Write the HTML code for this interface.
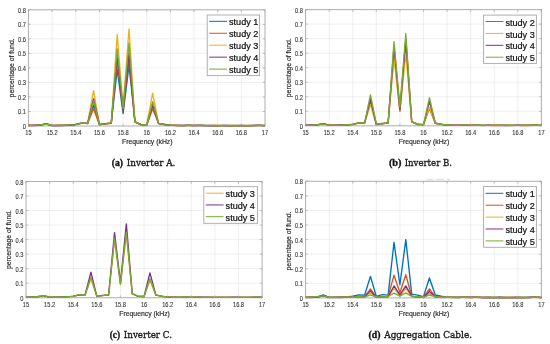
<!DOCTYPE html>
<html><head><meta charset="utf-8"><title>Figure</title>
<style>
html,body{margin:0;padding:0;background:#fff;}
body{width:550px;height:344px;overflow:hidden;}
svg{display:block;filter:blur(0.5px);}
.grid{stroke:#e4e4e4;stroke-width:0.6;fill:none;}
.tick{stroke:#9a9a9a;stroke-width:0.6;fill:none;}
.box{stroke:#b4b4b4;stroke-width:1.1;fill:none;}
.ln{fill:none;stroke-width:1.35;stroke-linejoin:round;}
.tl{font-family:"Liberation Sans",Arial,sans-serif;font-size:6.7px;fill:#383838;stroke:#383838;stroke-width:0.12px;}
.al{font-family:"Liberation Sans",Arial,sans-serif;font-size:6.85px;fill:#2e2e2e;stroke:#2e2e2e;stroke-width:0.18px;}
.leg{fill:#fff;stroke:#a8a8a8;stroke-width:0.9;}
.ll{stroke-width:1.0;fill:none;}
.lt{font-family:"Liberation Sans",Arial,sans-serif;font-size:9.1px;fill:#111;stroke:#111;stroke-width:0.22px;}
.cap{font-family:"DejaVu Serif","Liberation Serif",serif;font-size:8.9px;fill:#1a1a1a;stroke:#1a1a1a;stroke-width:0.32px;}
.capb{font-family:"Liberation Serif","DejaVu Serif",serif;font-weight:bold;font-size:9.3px;fill:#111;stroke:#111;stroke-width:0.3px;}
</style></head>
<body>
<svg width="550" height="344" viewBox="0 0 550 344">
<rect width="550" height="344" fill="#fff"/>
<path class="grid" d="M52.15 9.8V126M75.8 9.8V126M99.45 9.8V126M123.1 9.8V126M146.75 9.8V126M170.4 9.8V126M194.05 9.8V126M217.7 9.8V126M241.35 9.8V126M28.5 111.47H265M28.5 96.95H265M28.5 82.42H265M28.5 67.9H265M28.5 53.38H265M28.5 38.85H265M28.5 24.33H265"/>
<rect class="box" x="28.5" y="9.8" width="236.5" height="116.2"/>
<polyline class="ln" stroke="#0072BD" points="28.5,125.33 34.41,125.59 40.32,124.98 46.24,123.79 52.15,125.51 58.06,125.33 63.98,125.59 69.89,125.13 75.8,124.37 81.71,123.18 87.62,123.3 93.54,104.94 99.45,124.55 105.36,123.65 111.27,123.18 117.19,69.35 123.1,113.51 129.01,65.14 134.93,121.76 140.84,124.63 146.75,124.75 152.66,105.66 158.58,123.39 164.49,124.37 170.4,125.36 176.31,125.33 182.23,125.74 188.14,125.27 194.05,125.39 199.96,125.36 205.88,125.48 211.79,125.74 217.7,125.56 223.61,125.39 229.52,125.65 235.44,125.48 241.35,125.74 247.26,125.56 253.17,125.39 259.09,125.36 265,125.48"/>
<polyline class="ln" stroke="#D95319" points="28.5,125.51 34.41,125.33 40.32,125.16 46.24,123.97 52.15,125.24 58.06,125.51 63.98,125.33 69.89,125.3 75.8,124.55 81.71,122.92 87.62,123.47 93.54,108.86 99.45,124.72 105.36,123.82 111.27,122.92 117.19,60.93 123.1,110.89 129.01,58.17 134.93,121.93 140.84,124.37 146.75,124.93 152.66,108.86 158.58,123.56 164.49,124.55 170.4,125.1 176.31,125.51 182.23,125.48 188.14,125.45 194.05,125.56 199.96,125.1 205.88,125.65 211.79,125.48 217.7,125.74 223.61,125.56 229.52,125.39 235.44,125.65 241.35,125.48 247.26,125.74 253.17,125.56 259.09,125.1 265,125.65"/>
<polyline class="ln" stroke="#EDB120" points="28.5,125.24 34.41,125.51 40.32,124.9 46.24,124.14 52.15,125.42 58.06,125.24 63.98,125.51 69.89,125.04 75.8,124.72 81.71,123.09 87.62,123.21 93.54,90.7 99.45,124.46 105.36,124 111.27,123.09 117.19,34.64 123.1,107.12 129.01,28.97 134.93,122.11 140.84,124.55 146.75,124.66 152.66,93.17 158.58,123.3 164.49,124.72 170.4,125.27 176.31,125.24 182.23,125.65 188.14,125.19 194.05,125.74 199.96,125.27 205.88,125.39 211.79,125.65 217.7,125.48 223.61,125.74 229.52,125.56 235.44,125.39 241.35,125.65 247.26,125.48 253.17,125.74 259.09,125.27 265,125.39"/>
<polyline class="ln" stroke="#7E2F8E" points="28.5,125.42 34.41,125.24 40.32,125.07 46.24,123.88 52.15,125.59 58.06,125.42 63.98,125.24 69.89,125.22 75.8,124.46 81.71,123.27 87.62,123.39 93.54,98.98 99.45,124.63 105.36,123.73 111.27,123.27 117.19,54.83 123.1,110.02 129.01,53.38 134.93,121.85 140.84,124.72 146.75,124.84 152.66,104.21 158.58,123.47 164.49,124.46 170.4,125.45 176.31,125.42 182.23,125.39 188.14,125.36 194.05,125.48 199.96,125.45 205.88,125.56 211.79,125.39 217.7,125.65 223.61,125.48 229.52,125.74 235.44,125.56 241.35,125.39 247.26,125.65 253.17,125.48 259.09,125.45 265,125.56"/>
<polyline class="ln" stroke="#77AC30" points="28.5,125.59 34.41,125.42 40.32,124.81 46.24,124.05 52.15,125.33 58.06,125.59 63.98,125.42 69.89,124.95 75.8,124.63 81.71,123.01 87.62,123.56 93.54,101.02 99.45,124.37 105.36,123.91 111.27,123.01 117.19,48.87 123.1,108.42 129.01,43.21 134.93,122.02 140.84,124.46 146.75,125.01 152.66,101.74 158.58,123.21 164.49,124.63 170.4,125.19 176.31,125.59 182.23,125.56 188.14,125.1 194.05,125.65 199.96,125.19 205.88,125.74 211.79,125.56 217.7,125.39 223.61,125.65 229.52,125.48 235.44,125.74 241.35,125.56 247.26,125.39 253.17,125.65 259.09,125.19 265,125.74"/>
<path class="tick" d="M28.5 126v-2.2M28.5 9.8v2.2M52.15 126v-2.2M52.15 9.8v2.2M75.8 126v-2.2M75.8 9.8v2.2M99.45 126v-2.2M99.45 9.8v2.2M123.1 126v-2.2M123.1 9.8v2.2M146.75 126v-2.2M146.75 9.8v2.2M170.4 126v-2.2M170.4 9.8v2.2M194.05 126v-2.2M194.05 9.8v2.2M217.7 126v-2.2M217.7 9.8v2.2M241.35 126v-2.2M241.35 9.8v2.2M265 126v-2.2M265 9.8v2.2M28.5 126h2.2M265 126h-2.2M28.5 111.47h2.2M265 111.47h-2.2M28.5 96.95h2.2M265 96.95h-2.2M28.5 82.42h2.2M265 82.42h-2.2M28.5 67.9h2.2M265 67.9h-2.2M28.5 53.38h2.2M265 53.38h-2.2M28.5 38.85h2.2M265 38.85h-2.2M28.5 24.33h2.2M265 24.33h-2.2M28.5 9.8h2.2M265 9.8h-2.2"/>
<text class="tl" transform="translate(28.5 134.8) scale(0.85 1)" text-anchor="middle">15</text>
<text class="tl" transform="translate(52.15 134.8) scale(0.85 1)" text-anchor="middle">15.2</text>
<text class="tl" transform="translate(75.8 134.8) scale(0.85 1)" text-anchor="middle">15.4</text>
<text class="tl" transform="translate(99.45 134.8) scale(0.85 1)" text-anchor="middle">15.6</text>
<text class="tl" transform="translate(123.1 134.8) scale(0.85 1)" text-anchor="middle">15.8</text>
<text class="tl" transform="translate(146.75 134.8) scale(0.85 1)" text-anchor="middle">16</text>
<text class="tl" transform="translate(170.4 134.8) scale(0.85 1)" text-anchor="middle">16.2</text>
<text class="tl" transform="translate(194.05 134.8) scale(0.85 1)" text-anchor="middle">16.4</text>
<text class="tl" transform="translate(217.7 134.8) scale(0.85 1)" text-anchor="middle">16.6</text>
<text class="tl" transform="translate(241.35 134.8) scale(0.85 1)" text-anchor="middle">16.8</text>
<text class="tl" transform="translate(265 134.8) scale(0.85 1)" text-anchor="middle">17</text>
<text class="tl" transform="translate(25.9 129) scale(0.85 1)" text-anchor="end">0</text>
<text class="tl" transform="translate(25.9 114.47) scale(0.85 1)" text-anchor="end">0.1</text>
<text class="tl" transform="translate(25.9 99.95) scale(0.85 1)" text-anchor="end">0.2</text>
<text class="tl" transform="translate(25.9 85.42) scale(0.85 1)" text-anchor="end">0.3</text>
<text class="tl" transform="translate(25.9 70.9) scale(0.85 1)" text-anchor="end">0.4</text>
<text class="tl" transform="translate(25.9 56.38) scale(0.85 1)" text-anchor="end">0.5</text>
<text class="tl" transform="translate(25.9 41.85) scale(0.85 1)" text-anchor="end">0.6</text>
<text class="tl" transform="translate(25.9 27.33) scale(0.85 1)" text-anchor="end">0.7</text>
<text class="tl" transform="translate(25.9 12.8) scale(0.85 1)" text-anchor="end">0.8</text>
<text class="al" x="147.25" y="143.8" text-anchor="middle">Frequency (kHz)</text>
<text class="al" transform="translate(14.2 67.9) rotate(-90)" text-anchor="middle">percentage of fund.</text>
<rect class="leg" x="207.2" y="15" width="52.3" height="60.6"/>
<path class="ll" stroke="#0072BD" stroke-width="0.9" d="M209.2 21.3H227"/>
<text class="lt" x="229" y="25.4">study 1</text>
<path class="ll" stroke="#D95319" stroke-width="0.9" d="M209.2 33.25H227"/>
<text class="lt" x="229" y="37.35">study 2</text>
<path class="ll" stroke="#EDB120" stroke-width="0.9" d="M209.2 45.2H227"/>
<text class="lt" x="229" y="49.3">study 3</text>
<path class="ll" stroke="#7E2F8E" stroke-width="0.9" d="M209.2 57.15H227"/>
<text class="lt" x="229" y="61.25">study 4</text>
<path class="ll" stroke="#77AC30" stroke-width="0.9" d="M209.2 69.1H227"/>
<text class="lt" x="229" y="73.2">study 5</text>
<text class="capb" x="111.8" y="165.6" textLength="11.3" lengthAdjust="spacingAndGlyphs">(a)</text>
<text class="cap" x="126.7" y="165.6" textLength="48.7" lengthAdjust="spacingAndGlyphs">Inverter A.</text>
<path class="grid" d="M329.18 9.6V125.8M352.76 9.6V125.8M376.34 9.6V125.8M399.92 9.6V125.8M423.5 9.6V125.8M447.08 9.6V125.8M470.66 9.6V125.8M494.24 9.6V125.8M517.82 9.6V125.8M305.6 111.27H541.4M305.6 96.75H541.4M305.6 82.22H541.4M305.6 67.7H541.4M305.6 53.17H541.4M305.6 38.65H541.4M305.6 24.12H541.4"/>
<rect class="box" x="305.6" y="9.6" width="235.8" height="116.2"/>
<polyline class="ln" stroke="#D95319" points="305.6,125.31 311.5,125.13 317.39,124.96 323.29,123.77 329.18,125.04 335.08,125.31 340.97,125.13 346.86,125.1 352.76,124.35 358.65,122.72 364.55,123.27 370.45,102.56 376.34,124.52 382.24,123.62 388.13,122.72 394.02,53.17 399.92,111.27 405.81,44.46 411.71,121.73 417.6,124.17 423.5,124.73 429.4,108.37 435.29,123.36 441.18,124.35 447.08,124.9 452.98,125.31 458.87,125.28 464.77,125.25 470.66,125.36 476.55,124.9 482.45,125.45 488.35,125.28 494.24,125.54 500.13,125.36 506.03,125.19 511.92,125.45 517.82,125.28 523.72,125.54 529.61,125.36 535.5,124.9 541.4,125.45"/>
<polyline class="ln" stroke="#EDB120" points="305.6,125.04 311.5,125.31 317.39,124.7 323.29,123.94 329.18,125.22 335.08,125.04 340.97,125.31 346.86,124.84 352.76,124.52 358.65,122.89 364.55,123.01 370.45,104.45 376.34,124.26 382.24,123.8 388.13,122.89 394.02,57.53 399.92,111.57 405.81,53.17 411.71,121.91 417.6,124.35 423.5,124.46 429.4,107.35 435.29,123.1 441.18,124.52 447.08,125.07 452.98,125.04 458.87,125.45 464.77,124.99 470.66,125.54 476.55,125.07 482.45,125.19 488.35,125.45 494.24,125.28 500.13,125.54 506.03,125.36 511.92,125.19 517.82,125.45 523.72,125.28 529.61,125.54 535.5,125.07 541.4,125.19"/>
<polyline class="ln" stroke="#7E2F8E" points="305.6,125.22 311.5,125.04 317.39,124.87 323.29,123.68 329.18,125.39 335.08,125.22 340.97,125.04 346.86,125.02 352.76,124.26 358.65,123.07 364.55,123.19 370.45,99.22 376.34,124.43 382.24,123.53 388.13,123.07 394.02,45.91 399.92,109.82 405.81,38.65 411.71,121.65 417.6,124.52 423.5,124.64 429.4,101.4 435.29,123.27 441.18,124.26 447.08,125.25 452.98,125.22 458.87,125.19 464.77,125.16 470.66,125.28 476.55,125.25 482.45,125.36 488.35,125.19 494.24,125.45 500.13,125.28 506.03,125.54 511.92,125.36 517.82,125.19 523.72,125.45 529.61,125.28 535.5,125.25 541.4,125.36"/>
<polyline class="ln" stroke="#77AC30" points="305.6,125.39 311.5,125.22 317.39,124.61 323.29,123.85 329.18,125.13 335.08,125.39 340.97,125.22 346.86,124.75 352.76,124.43 358.65,122.81 364.55,123.36 370.45,94.86 376.34,124.17 382.24,123.71 388.13,122.81 394.02,41.7 399.92,107.35 405.81,33.71 411.71,121.82 417.6,124.26 423.5,124.81 429.4,97.77 435.29,123.01 441.18,124.43 447.08,124.99 452.98,125.39 458.87,125.36 464.77,124.9 470.66,125.45 476.55,124.99 482.45,125.54 488.35,125.36 494.24,125.19 500.13,125.45 506.03,125.28 511.92,125.54 517.82,125.36 523.72,125.19 529.61,125.45 535.5,124.99 541.4,125.54"/>
<path class="tick" d="M305.6 125.8v-2.2M305.6 9.6v2.2M329.18 125.8v-2.2M329.18 9.6v2.2M352.76 125.8v-2.2M352.76 9.6v2.2M376.34 125.8v-2.2M376.34 9.6v2.2M399.92 125.8v-2.2M399.92 9.6v2.2M423.5 125.8v-2.2M423.5 9.6v2.2M447.08 125.8v-2.2M447.08 9.6v2.2M470.66 125.8v-2.2M470.66 9.6v2.2M494.24 125.8v-2.2M494.24 9.6v2.2M517.82 125.8v-2.2M517.82 9.6v2.2M541.4 125.8v-2.2M541.4 9.6v2.2M305.6 125.8h2.2M541.4 125.8h-2.2M305.6 111.27h2.2M541.4 111.27h-2.2M305.6 96.75h2.2M541.4 96.75h-2.2M305.6 82.22h2.2M541.4 82.22h-2.2M305.6 67.7h2.2M541.4 67.7h-2.2M305.6 53.17h2.2M541.4 53.17h-2.2M305.6 38.65h2.2M541.4 38.65h-2.2M305.6 24.12h2.2M541.4 24.12h-2.2M305.6 9.6h2.2M541.4 9.6h-2.2"/>
<text class="tl" transform="translate(305.6 134.6) scale(0.85 1)" text-anchor="middle">15</text>
<text class="tl" transform="translate(329.18 134.6) scale(0.85 1)" text-anchor="middle">15.2</text>
<text class="tl" transform="translate(352.76 134.6) scale(0.85 1)" text-anchor="middle">15.4</text>
<text class="tl" transform="translate(376.34 134.6) scale(0.85 1)" text-anchor="middle">15.6</text>
<text class="tl" transform="translate(399.92 134.6) scale(0.85 1)" text-anchor="middle">15.8</text>
<text class="tl" transform="translate(423.5 134.6) scale(0.85 1)" text-anchor="middle">16</text>
<text class="tl" transform="translate(447.08 134.6) scale(0.85 1)" text-anchor="middle">16.2</text>
<text class="tl" transform="translate(470.66 134.6) scale(0.85 1)" text-anchor="middle">16.4</text>
<text class="tl" transform="translate(494.24 134.6) scale(0.85 1)" text-anchor="middle">16.6</text>
<text class="tl" transform="translate(517.82 134.6) scale(0.85 1)" text-anchor="middle">16.8</text>
<text class="tl" transform="translate(541.4 134.6) scale(0.85 1)" text-anchor="middle">17</text>
<text class="tl" transform="translate(303 128.8) scale(0.85 1)" text-anchor="end">0</text>
<text class="tl" transform="translate(303 114.27) scale(0.85 1)" text-anchor="end">0.1</text>
<text class="tl" transform="translate(303 99.75) scale(0.85 1)" text-anchor="end">0.2</text>
<text class="tl" transform="translate(303 85.22) scale(0.85 1)" text-anchor="end">0.3</text>
<text class="tl" transform="translate(303 70.7) scale(0.85 1)" text-anchor="end">0.4</text>
<text class="tl" transform="translate(303 56.17) scale(0.85 1)" text-anchor="end">0.5</text>
<text class="tl" transform="translate(303 41.65) scale(0.85 1)" text-anchor="end">0.6</text>
<text class="tl" transform="translate(303 27.12) scale(0.85 1)" text-anchor="end">0.7</text>
<text class="tl" transform="translate(303 12.6) scale(0.85 1)" text-anchor="end">0.8</text>
<text class="al" x="424" y="143.6" text-anchor="middle">Frequency (kHz)</text>
<text class="al" transform="translate(291.3 67.7) rotate(-90)" text-anchor="middle">percentage of fund.</text>
<rect class="leg" x="483.6" y="15.1" width="52.8" height="48.3"/>
<path class="ll" stroke="#D95319" stroke-width="0.9" d="M485.6 21.5H503.4"/>
<text class="lt" x="505.4" y="25.6">study 2</text>
<path class="ll" stroke="#EDB120" stroke-width="0.9" d="M485.6 33.4H503.4"/>
<text class="lt" x="505.4" y="37.5">study 3</text>
<path class="ll" stroke="#7E2F8E" stroke-width="0.9" d="M485.6 45.3H503.4"/>
<text class="lt" x="505.4" y="49.4">study 4</text>
<path class="ll" stroke="#77AC30" stroke-width="0.9" d="M485.6 57.2H503.4"/>
<text class="lt" x="505.4" y="61.3">study 5</text>
<text class="capb" x="388.9" y="165.6" textLength="12.6" lengthAdjust="spacingAndGlyphs">(b)</text>
<text class="cap" x="404.7" y="165.6" textLength="47.3" lengthAdjust="spacingAndGlyphs">Inverter B.</text>
<path class="grid" d="M49.61 181.5V297.7M73.22 181.5V297.7M96.83 181.5V297.7M120.44 181.5V297.7M144.05 181.5V297.7M167.66 181.5V297.7M191.27 181.5V297.7M214.88 181.5V297.7M238.49 181.5V297.7M26 283.18H262.1M26 268.65H262.1M26 254.12H262.1M26 239.6H262.1M26 225.07H262.1M26 210.55H262.1M26 196.03H262.1"/>
<rect class="box" x="26" y="181.5" width="236.1" height="116.2"/>
<polyline class="ln" stroke="#EDB120" points="26,296.94 31.9,297.21 37.8,296.6 43.71,295.84 49.61,297.12 55.51,296.94 61.42,297.21 67.32,296.74 73.22,296.42 79.12,294.8 85.03,294.91 90.93,278.82 96.83,296.16 102.73,295.7 108.63,294.8 114.54,239.6 120.44,284.63 126.34,233.79 132.25,293.81 138.15,296.25 144.05,296.36 149.95,280.27 155.86,295 161.76,296.42 167.66,296.97 173.56,296.94 179.47,297.35 185.37,296.89 191.27,297.44 197.17,296.97 203.08,297.09 208.98,297.35 214.88,297.18 220.78,297.44 226.68,297.26 232.59,297.09 238.49,297.35 244.39,297.18 250.29,297.44 256.2,296.97 262.1,297.09"/>
<polyline class="ln" stroke="#7E2F8E" points="26,297.12 31.9,296.94 37.8,296.77 43.71,295.58 49.61,297.29 55.51,297.12 61.42,296.94 67.32,296.92 73.22,296.16 79.12,294.97 85.03,295.09 90.93,272.14 96.83,296.33 102.73,295.43 108.63,294.97 114.54,232.63 120.44,283.18 126.34,223.91 132.25,293.55 138.15,296.42 144.05,296.54 149.95,272.86 155.86,295.17 161.76,296.16 167.66,297.15 173.56,297.12 179.47,297.09 185.37,297.06 191.27,297.18 197.17,297.15 203.08,297.26 208.98,297.09 214.88,297.35 220.78,297.18 226.68,297.44 232.59,297.26 238.49,297.09 244.39,297.35 250.29,297.18 256.2,297.15 262.1,297.26"/>
<polyline class="ln" stroke="#77AC30" points="26,297.29 31.9,297.12 37.8,296.51 43.71,295.75 49.61,297.03 55.51,297.29 61.42,297.12 67.32,296.65 73.22,296.33 79.12,294.71 85.03,295.26 90.93,277.22 96.83,296.07 102.73,295.61 108.63,294.71 114.54,238.15 120.44,283.76 126.34,232.05 132.25,293.72 138.15,296.16 144.05,296.71 149.95,278.67 155.86,294.91 161.76,296.33 167.66,296.89 173.56,297.29 179.47,297.26 185.37,296.8 191.27,297.35 197.17,296.89 203.08,297.44 208.98,297.26 214.88,297.09 220.78,297.35 226.68,297.18 232.59,297.44 238.49,297.26 244.39,297.09 250.29,297.35 256.2,296.89 262.1,297.44"/>
<path class="tick" d="M26 297.7v-2.2M26 181.5v2.2M49.61 297.7v-2.2M49.61 181.5v2.2M73.22 297.7v-2.2M73.22 181.5v2.2M96.83 297.7v-2.2M96.83 181.5v2.2M120.44 297.7v-2.2M120.44 181.5v2.2M144.05 297.7v-2.2M144.05 181.5v2.2M167.66 297.7v-2.2M167.66 181.5v2.2M191.27 297.7v-2.2M191.27 181.5v2.2M214.88 297.7v-2.2M214.88 181.5v2.2M238.49 297.7v-2.2M238.49 181.5v2.2M262.1 297.7v-2.2M262.1 181.5v2.2M26 297.7h2.2M262.1 297.7h-2.2M26 283.18h2.2M262.1 283.18h-2.2M26 268.65h2.2M262.1 268.65h-2.2M26 254.12h2.2M262.1 254.12h-2.2M26 239.6h2.2M262.1 239.6h-2.2M26 225.07h2.2M262.1 225.07h-2.2M26 210.55h2.2M262.1 210.55h-2.2M26 196.03h2.2M262.1 196.03h-2.2M26 181.5h2.2M262.1 181.5h-2.2"/>
<text class="tl" transform="translate(26 306.5) scale(0.85 1)" text-anchor="middle">15</text>
<text class="tl" transform="translate(49.61 306.5) scale(0.85 1)" text-anchor="middle">15.2</text>
<text class="tl" transform="translate(73.22 306.5) scale(0.85 1)" text-anchor="middle">15.4</text>
<text class="tl" transform="translate(96.83 306.5) scale(0.85 1)" text-anchor="middle">15.6</text>
<text class="tl" transform="translate(120.44 306.5) scale(0.85 1)" text-anchor="middle">15.8</text>
<text class="tl" transform="translate(144.05 306.5) scale(0.85 1)" text-anchor="middle">16</text>
<text class="tl" transform="translate(167.66 306.5) scale(0.85 1)" text-anchor="middle">16.2</text>
<text class="tl" transform="translate(191.27 306.5) scale(0.85 1)" text-anchor="middle">16.4</text>
<text class="tl" transform="translate(214.88 306.5) scale(0.85 1)" text-anchor="middle">16.6</text>
<text class="tl" transform="translate(238.49 306.5) scale(0.85 1)" text-anchor="middle">16.8</text>
<text class="tl" transform="translate(262.1 306.5) scale(0.85 1)" text-anchor="middle">17</text>
<text class="tl" transform="translate(23.4 300.7) scale(0.85 1)" text-anchor="end">0</text>
<text class="tl" transform="translate(23.4 286.18) scale(0.85 1)" text-anchor="end">0.1</text>
<text class="tl" transform="translate(23.4 271.65) scale(0.85 1)" text-anchor="end">0.2</text>
<text class="tl" transform="translate(23.4 257.12) scale(0.85 1)" text-anchor="end">0.3</text>
<text class="tl" transform="translate(23.4 242.6) scale(0.85 1)" text-anchor="end">0.4</text>
<text class="tl" transform="translate(23.4 228.07) scale(0.85 1)" text-anchor="end">0.5</text>
<text class="tl" transform="translate(23.4 213.55) scale(0.85 1)" text-anchor="end">0.6</text>
<text class="tl" transform="translate(23.4 199.03) scale(0.85 1)" text-anchor="end">0.7</text>
<text class="tl" transform="translate(23.4 184.5) scale(0.85 1)" text-anchor="end">0.8</text>
<text class="al" x="144.55" y="315.5" text-anchor="middle">Frequency (kHz)</text>
<text class="al" transform="translate(10.7 239.6) rotate(-90)" text-anchor="middle">percentage of fund.</text>
<rect class="leg" x="203.8" y="186.7" width="53.8" height="36.6"/>
<path class="ll" stroke="#EDB120" stroke-width="1.4" d="M205.8 193.2H223.6"/>
<text class="lt" x="225.6" y="197.3">study 3</text>
<path class="ll" stroke="#7E2F8E" stroke-width="1.4" d="M205.8 204.95H223.6"/>
<text class="lt" x="225.6" y="209.05">study 4</text>
<path class="ll" stroke="#77AC30" stroke-width="1.4" d="M205.8 216.7H223.6"/>
<text class="lt" x="225.6" y="220.8">study 5</text>
<text class="capb" x="109.7" y="337.6" textLength="10.4" lengthAdjust="spacingAndGlyphs">(c)</text>
<text class="cap" x="123.8" y="337.6" textLength="48.2" lengthAdjust="spacingAndGlyphs">Inverter C.</text>
<path class="grid" d="M329.18 181.3V297.9M352.76 181.3V297.9M376.34 181.3V297.9M399.92 181.3V297.9M423.5 181.3V297.9M447.08 181.3V297.9M470.66 181.3V297.9M494.24 181.3V297.9M517.82 181.3V297.9M305.6 283.32H541.4M305.6 268.75H541.4M305.6 254.17H541.4M305.6 239.6H541.4M305.6 225.03H541.4M305.6 210.45H541.4M305.6 195.88H541.4"/>
<rect class="box" x="305.6" y="181.3" width="235.8" height="116.6"/>
<polyline class="ln" stroke="#0072BD" points="305.6,297.23 311.5,297.49 317.39,296.88 323.29,294.96 329.18,297.4 335.08,297.23 340.97,297.49 346.86,297.03 352.76,296.27 358.65,294.93 364.55,295.19 370.45,276.33 376.34,296.44 382.24,294.66 388.13,295.07 394.02,242.37 399.92,284.78 405.81,239.6 411.71,294.08 417.6,295.07 423.5,296.65 429.4,277.93 435.29,294.98 441.18,296.27 447.08,297.26 452.98,297.23 458.87,297.64 464.77,297.17 470.66,297.29 476.55,297.26 482.45,297.38 488.35,297.64 494.24,297.46 500.13,297.29 506.03,297.55 511.92,297.38 517.82,297.64 523.72,297.46 529.61,297.29 535.5,297.26 541.4,297.38"/>
<polyline class="ln" stroke="#D95319" points="305.6,297.4 311.5,297.23 317.39,297.05 323.29,295.86 329.18,297.14 335.08,297.4 340.97,297.23 346.86,297.2 352.76,297.03 358.65,296.41 364.55,296.97 370.45,288.86 376.34,297.35 382.24,296.88 388.13,296.41 394.02,275.16 399.92,292.51 405.81,274.73 411.71,296.3 417.6,296.7 423.5,297.4 429.4,288.86 435.29,296.91 441.18,297.17 447.08,297 452.98,297.4 458.87,297.38 464.77,297.35 470.66,297.46 476.55,297 482.45,297.55 488.35,297.38 494.24,297.64 500.13,297.46 506.03,297.29 511.92,297.55 517.82,297.38 523.72,297.64 529.61,297.46 535.5,297 541.4,297.55"/>
<polyline class="ln" stroke="#EDB120" points="305.6,297.14 311.5,297.4 317.39,296.79 323.29,296.03 329.18,297.32 335.08,297.14 340.97,297.4 346.86,296.94 352.76,297.2 358.65,296.59 364.55,296.7 370.45,292.8 376.34,297.08 382.24,297.05 388.13,296.59 394.02,288.43 399.92,295.71 405.81,288.43 411.71,296.47 417.6,296.88 423.5,297.14 429.4,293.53 435.29,296.65 441.18,297.35 447.08,297.17 452.98,297.14 458.87,297.55 464.77,297.08 470.66,297.64 476.55,297.17 482.45,297.29 488.35,297.55 494.24,297.38 500.13,297.64 506.03,297.46 511.92,297.29 517.82,297.55 523.72,297.38 529.61,297.64 535.5,297.17 541.4,297.29"/>
<polyline class="ln" stroke="#7E2F8E" points="305.6,297.32 311.5,297.14 317.39,296.97 323.29,295.77 329.18,297.49 335.08,297.32 340.97,297.14 346.86,297.11 352.76,296.94 358.65,296.76 364.55,296.88 370.45,290.9 376.34,297.26 382.24,296.79 388.13,296.76 394.02,285.95 399.92,294.98 405.81,285.95 411.71,296.21 417.6,297.05 423.5,297.32 429.4,291.49 435.29,296.82 441.18,297.08 447.08,297.35 452.98,297.32 458.87,297.29 464.77,297.26 470.66,297.38 476.55,297.35 482.45,297.46 488.35,297.29 494.24,297.55 500.13,297.38 506.03,297.64 511.92,297.46 517.82,297.29 523.72,297.55 529.61,297.38 535.5,297.35 541.4,297.46"/>
<polyline class="ln" stroke="#77AC30" points="305.6,297.49 311.5,297.32 317.39,296.7 323.29,295.95 329.18,297.23 335.08,297.49 340.97,297.32 346.86,296.85 352.76,297.11 358.65,296.5 364.55,297.05 370.45,294.98 376.34,297 382.24,296.97 388.13,296.5 394.02,293.09 399.92,296.15 405.81,292.8 411.71,296.38 417.6,296.79 423.5,297.49 429.4,294.98 435.29,296.56 441.18,297.26 447.08,297.08 452.98,297.49 458.87,297.46 464.77,297 470.66,297.55 476.55,297.08 482.45,297.64 488.35,297.46 494.24,297.29 500.13,297.55 506.03,297.38 511.92,297.64 517.82,297.46 523.72,297.29 529.61,297.55 535.5,297.08 541.4,297.64"/>
<path class="tick" d="M305.6 297.9v-2.2M305.6 181.3v2.2M329.18 297.9v-2.2M329.18 181.3v2.2M352.76 297.9v-2.2M352.76 181.3v2.2M376.34 297.9v-2.2M376.34 181.3v2.2M399.92 297.9v-2.2M399.92 181.3v2.2M423.5 297.9v-2.2M423.5 181.3v2.2M447.08 297.9v-2.2M447.08 181.3v2.2M470.66 297.9v-2.2M470.66 181.3v2.2M494.24 297.9v-2.2M494.24 181.3v2.2M517.82 297.9v-2.2M517.82 181.3v2.2M541.4 297.9v-2.2M541.4 181.3v2.2M305.6 297.9h2.2M541.4 297.9h-2.2M305.6 283.32h2.2M541.4 283.32h-2.2M305.6 268.75h2.2M541.4 268.75h-2.2M305.6 254.17h2.2M541.4 254.17h-2.2M305.6 239.6h2.2M541.4 239.6h-2.2M305.6 225.03h2.2M541.4 225.03h-2.2M305.6 210.45h2.2M541.4 210.45h-2.2M305.6 195.88h2.2M541.4 195.88h-2.2M305.6 181.3h2.2M541.4 181.3h-2.2"/>
<text class="tl" transform="translate(305.6 306.7) scale(0.85 1)" text-anchor="middle">15</text>
<text class="tl" transform="translate(329.18 306.7) scale(0.85 1)" text-anchor="middle">15.2</text>
<text class="tl" transform="translate(352.76 306.7) scale(0.85 1)" text-anchor="middle">15.4</text>
<text class="tl" transform="translate(376.34 306.7) scale(0.85 1)" text-anchor="middle">15.6</text>
<text class="tl" transform="translate(399.92 306.7) scale(0.85 1)" text-anchor="middle">15.8</text>
<text class="tl" transform="translate(423.5 306.7) scale(0.85 1)" text-anchor="middle">16</text>
<text class="tl" transform="translate(447.08 306.7) scale(0.85 1)" text-anchor="middle">16.2</text>
<text class="tl" transform="translate(470.66 306.7) scale(0.85 1)" text-anchor="middle">16.4</text>
<text class="tl" transform="translate(494.24 306.7) scale(0.85 1)" text-anchor="middle">16.6</text>
<text class="tl" transform="translate(517.82 306.7) scale(0.85 1)" text-anchor="middle">16.8</text>
<text class="tl" transform="translate(541.4 306.7) scale(0.85 1)" text-anchor="middle">17</text>
<text class="tl" transform="translate(303 300.9) scale(0.85 1)" text-anchor="end">0</text>
<text class="tl" transform="translate(303 286.32) scale(0.85 1)" text-anchor="end">0.1</text>
<text class="tl" transform="translate(303 271.75) scale(0.85 1)" text-anchor="end">0.2</text>
<text class="tl" transform="translate(303 257.17) scale(0.85 1)" text-anchor="end">0.3</text>
<text class="tl" transform="translate(303 242.6) scale(0.85 1)" text-anchor="end">0.4</text>
<text class="tl" transform="translate(303 228.03) scale(0.85 1)" text-anchor="end">0.5</text>
<text class="tl" transform="translate(303 213.45) scale(0.85 1)" text-anchor="end">0.6</text>
<text class="tl" transform="translate(303 198.88) scale(0.85 1)" text-anchor="end">0.7</text>
<text class="tl" transform="translate(303 184.3) scale(0.85 1)" text-anchor="end">0.8</text>
<text class="al" x="424" y="315.7" text-anchor="middle">Frequency (kHz)</text>
<text class="al" transform="translate(291.3 241) rotate(-90)" text-anchor="middle">percentage of fund.</text>
<rect class="leg" x="483.6" y="186.6" width="52.8" height="60.7"/>
<path class="ll" stroke="#0072BD" stroke-width="1.4" d="M485.6 193.3H503.4"/>
<text class="lt" x="505.4" y="197.4">study 1</text>
<path class="ll" stroke="#D95319" stroke-width="1.4" d="M485.6 205.2H503.4"/>
<text class="lt" x="505.4" y="209.3">study 2</text>
<path class="ll" stroke="#EDB120" stroke-width="1.4" d="M485.6 217.1H503.4"/>
<text class="lt" x="505.4" y="221.2">study 3</text>
<path class="ll" stroke="#7E2F8E" stroke-width="1.4" d="M485.6 229H503.4"/>
<text class="lt" x="505.4" y="233.1">study 4</text>
<path class="ll" stroke="#77AC30" stroke-width="1.4" d="M485.6 240.9H503.4"/>
<text class="lt" x="505.4" y="245">study 5</text>
<text class="capb" x="368.5" y="337.6" textLength="12" lengthAdjust="spacingAndGlyphs">(d)</text>
<text class="cap" x="384.2" y="337.6" textLength="87.9" lengthAdjust="spacingAndGlyphs">Aggregation Cable.</text>
<path d="M427 179.6h6M436 179.6h8M447 179.6h3" stroke="#d0d0d0" stroke-width="0.8"/>
</svg>
</body></html>
